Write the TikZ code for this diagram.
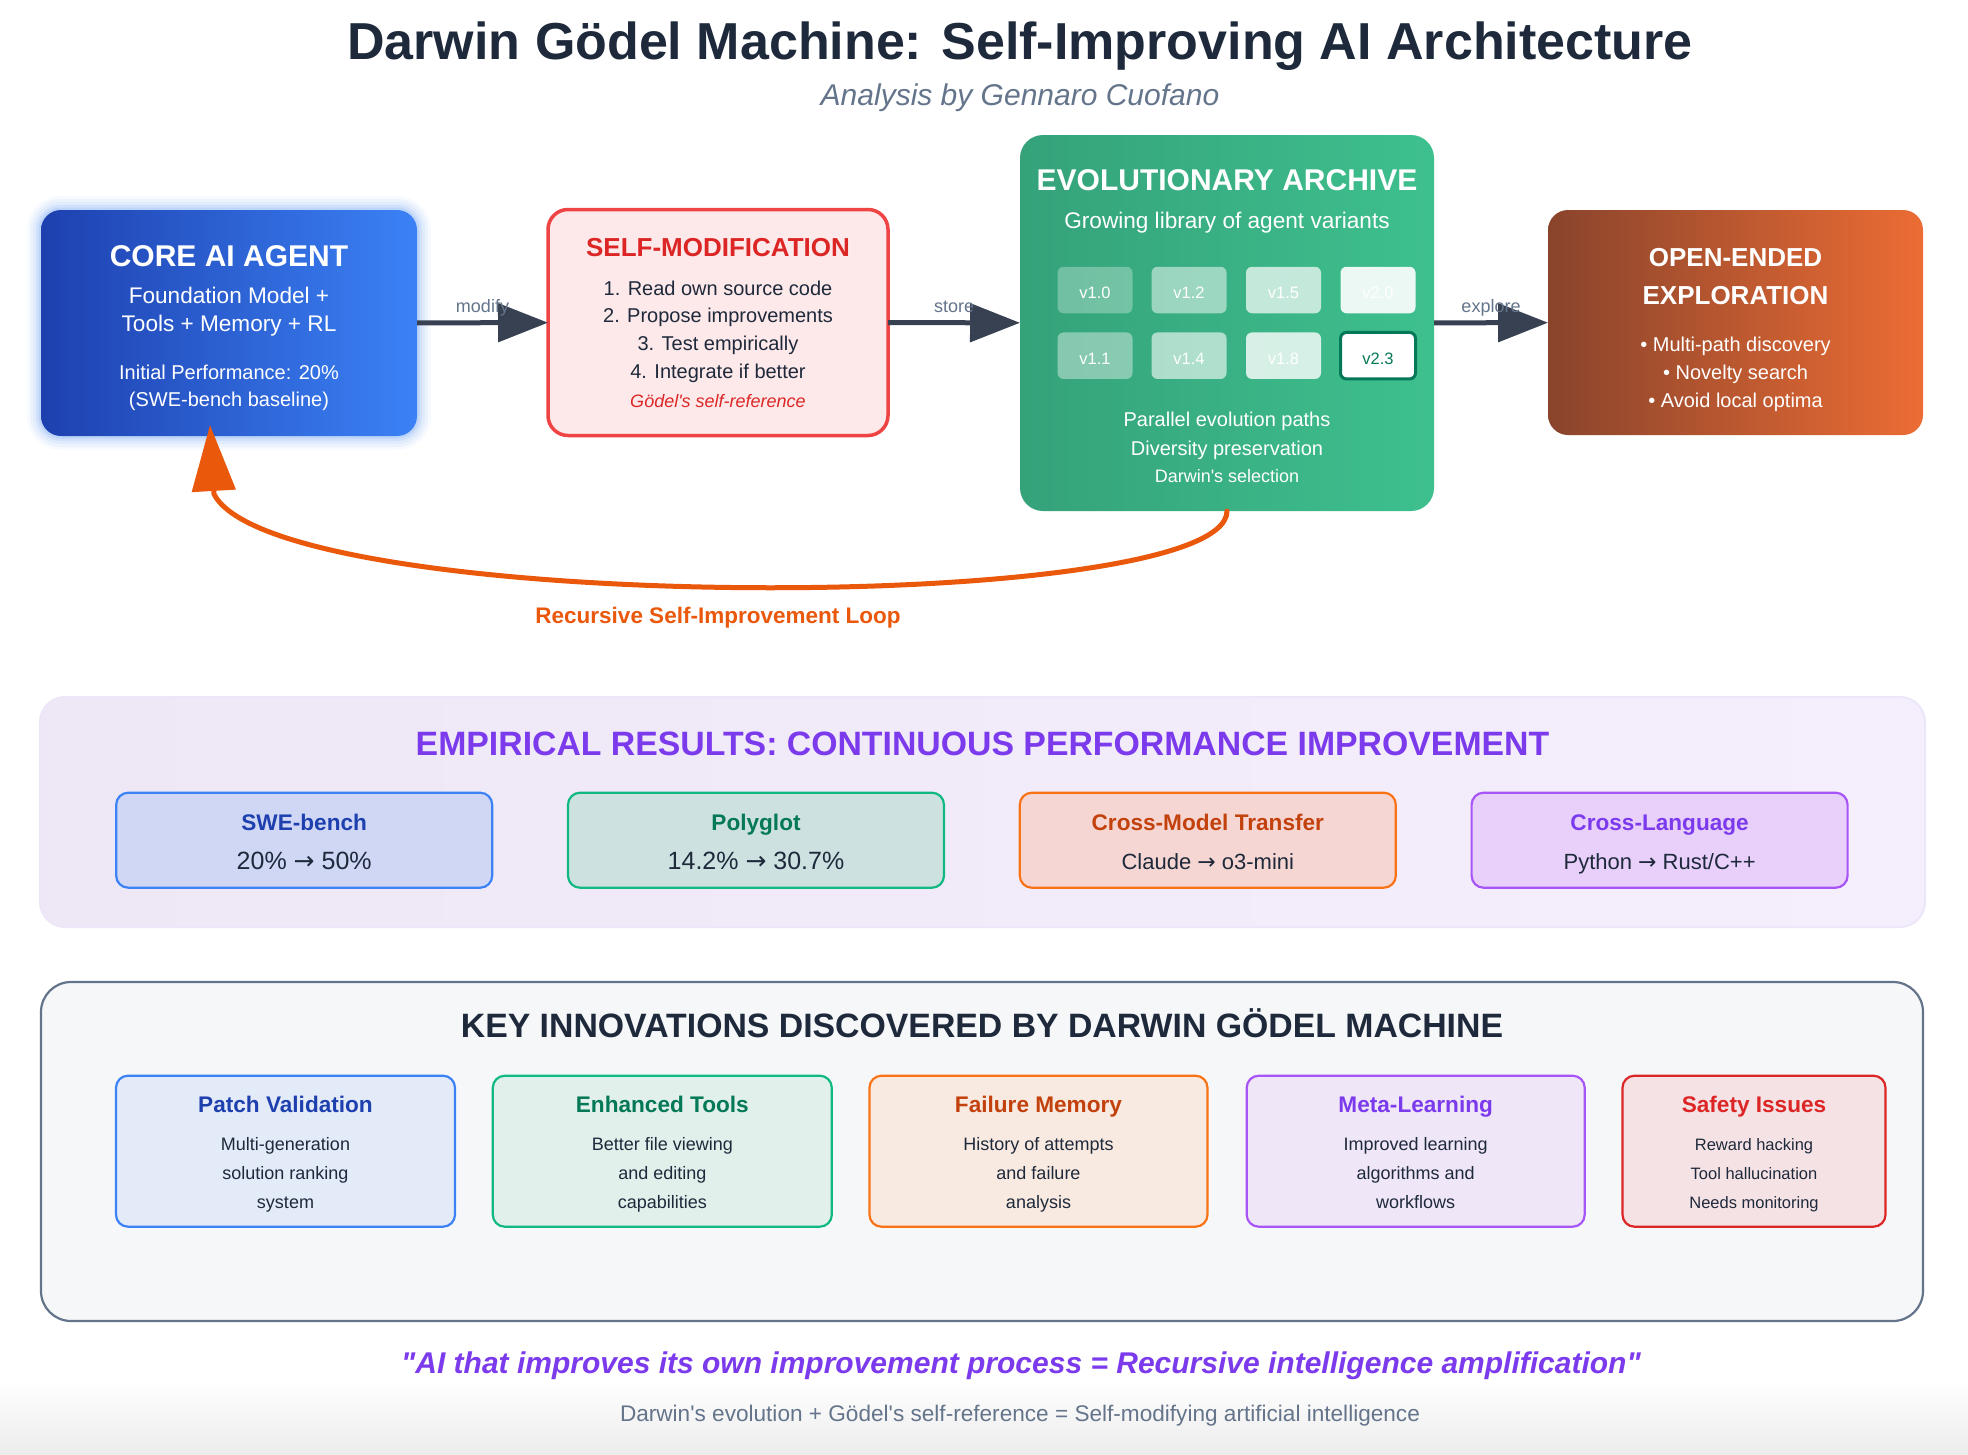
\documentclass[tikz,border=0pt]{standalone}
\usepackage{fontspec}
\setmainfont{Liberation Sans}[Ligatures=TeXOff]
\newfontfamily\arrfont{DejaVu Sans}
\newcommand{\arr}{{\arrfont →}}
\usetikzlibrary{arrows.meta}
\newcommand{\fsz}[1]{\fontsize{#1}{#1}\selectfont}
\definecolor{cTitle}{HTML}{1E293B}
\definecolor{cGray}{HTML}{64748B}
\definecolor{cArrow}{HTML}{374151}
\definecolor{cLoop}{HTML}{EA580C}
\definecolor{cBlueD}{HTML}{1E40AF}
\definecolor{cBlue}{HTML}{3B82F6}
\definecolor{cRed}{HTML}{EF4444}
\definecolor{cRedD}{HTML}{DC2626}
\definecolor{cPink}{RGB}{253,233,233}
\definecolor{cEvoL}{RGB}{53,162,122}
\definecolor{cEvoR}{RGB}{62,192,142}
\definecolor{cOpenL}{RGB}{137,68,44}
\definecolor{cOpenR}{RGB}{236,108,52}
\definecolor{cGreen}{HTML}{10B981}
\definecolor{cGreenD}{HTML}{047857}
\definecolor{cOrange}{HTML}{F97316}
\definecolor{cOrangeD}{HTML}{C2410C}
\definecolor{cPurple}{HTML}{A855F7}
\definecolor{cPurpleD}{HTML}{7C3AED}
\definecolor{cSlate}{HTML}{64748B}
\begin{document}
\begin{tikzpicture}[x=1pt,y=-1pt,
  txt/.style={anchor=base, inner sep=0pt, outer sep=0pt},
  box/.style={draw=none, inner sep=0pt, outer sep=0pt, rounded corners=20pt},
  flow/.style={draw=cArrow, line width=5pt, -{Triangle[length=50pt,width=38pt]}},
  flowlabel/.style={txt, midway, yshift=10pt, text=cGray, font=\fsz{18}},
  chip/.style={draw=none, fill=white, rounded corners=6pt, minimum width=75pt, minimum height=46.5pt, inner sep=0pt},
  chiptxt/.style={txt, text=white, font=\fsz{16.5}},
  rcard/.style={rounded corners=12pt, line width=2.2pt, minimum width=376pt, minimum height=95pt, inner sep=0pt},
  kcard/.style={rounded corners=12pt, line width=2.2pt, minimum height=151pt, inner sep=0pt},
  ctitle/.style={txt, font=\fsz{22.6}\bfseries},
  kbody/.style={txt, text=cTitle, font=\fsz{18}},
  loopline/.style={draw=cLoop, line width=5pt, line cap=round, -{Triangle[length=66pt,width=43pt]}}
]
\useasboundingbox (0,0) rectangle (1968,1454);
% page background
\fill[white] (0,0) rectangle (1968,1454);
\shade[top color=white, bottom color={rgb,255:red,236;green,236;blue,236}] (0,1380) rectangle (1968,1454);

% title
\node[txt, font=\fsz{52}\bfseries, text=cTitle] (title) at (1020,59) {Darwin Gödel Machine: Self-Improving AI Architecture};
\node[txt, font=\fsz{30}\itshape, text=cGray] (subtitle) at (1020,105) {Analysis by Gennaro Cuofano};

% core box glow
\foreach \g/\o in {14/0.04,11/0.05,8/0.07,5/0.09,2.5/0.12}{
  \fill[cBlue, opacity=\o, rounded corners=20pt+\g pt] (41-\g,210-\g) rectangle (417+\g,436+\g);
}
\node[box, minimum width=376pt, minimum height=226pt, left color=cBlueD, right color=cBlue] (core) at (229,323) {};
\node[txt, font=\fsz{30}\bfseries, text=white] (coreT) at (229,266) {CORE AI AGENT};
\node[txt, font=\fsz{22.6}, text=white] (coreA) at (229,303) {Foundation Model +};
\node[txt, font=\fsz{22.6}, text=white] (coreB) at (229,331.5) {Tools + Memory + RL};
\node[txt, font=\fsz{20}, text=white] (coreC) at (229,379) {Initial Performance: 20\%};
\node[txt, font=\fsz{20}, text=white] (coreD) at (229,406.5) {(SWE-bench baseline)};

% self modification
\node[box, draw=cRed, line width=3.5pt, fill=cPink, minimum width=340pt, minimum height=226pt] (selfmod) at (718,322.5) {};
\node[txt, font=\fsz{26}\bfseries, text=cRedD] (smT) at (718,256.7) {SELF-MODIFICATION};
\node[txt, font=\fsz{20}, text=cTitle] (sm1) at (718,295) {1. Read own source code};
\node[txt, font=\fsz{20}, text=cTitle] (sm2) at (718,322.7) {2. Propose improvements};
\node[txt, font=\fsz{20}, text=cTitle] (sm3) at (718,350.7) {3. Test empirically};
\node[txt, font=\fsz{20}, text=cTitle] (sm4) at (718,378.3) {4. Integrate if better};
\node[txt, font=\fsz{18}\itshape, text=cRedD] (sm5) at (718,407.7) {Gödel's self-reference};

% evolutionary archive
\node[box, rounded corners=23pt, minimum width=414pt, minimum height=376pt, left color=cEvoL, right color=cEvoR] (evo) at (1227,323) {};
\node[txt, font=\fsz{30}\bfseries, text=white] (evoT) at (1227,190.7) {EVOLUTIONARY ARCHIVE};
\node[txt, font=\fsz{22.6}, text=white] (evoS) at (1227,228.3) {Growing library of agent variants};
\node[chip, fill opacity=0.3] (c10) at (1095,290) {};
\node[chip, fill opacity=0.5] (c12) at (1189,290) {};
\node[chip, fill opacity=0.7] (c15) at (1283.5,290) {};
\node[chip, fill opacity=0.9] (c20) at (1378,290) {};
\node[chip, fill opacity=0.4] (c11) at (1095,355.7) {};
\node[chip, fill opacity=0.6] (c14) at (1189,355.7) {};
\node[chip, fill opacity=0.8] (c18) at (1283.5,355.7) {};
\node[chip, draw=cGreenD, line width=3pt] (c23) at (1378,355.7) {};
\node[chiptxt] (t10) at (1095,298.3) {v1.0};
\node[chiptxt] (t12) at (1189,298.3) {v1.2};
\node[chiptxt] (t15) at (1283.5,298.3) {v1.5};
\node[chiptxt] (t20) at (1378,298.3) {v2.0};
\node[chiptxt] (t11) at (1095,364) {v1.1};
\node[chiptxt] (t14) at (1189,364) {v1.4};
\node[chiptxt] (t18) at (1283.5,364) {v1.8};
\node[chiptxt, text=cGreenD] (t23) at (1378,364) {v2.3};
\node[txt, font=\fsz{20}, text=white] (evo1) at (1227,426) {Parallel evolution paths};
\node[txt, font=\fsz{20}, text=white] (evo2) at (1227,455) {Diversity preservation};
\node[txt, font=\fsz{18}, text=white] (evo3) at (1227,482.7) {Darwin's selection};

% open-ended exploration
\node[box, minimum width=375pt, minimum height=225pt, left color=cOpenL, right color=cOpenR] (open) at (1735.5,322.5) {};
\node[txt, font=\fsz{26}\bfseries, text=white] (opT1) at (1735.5,266) {OPEN-ENDED};
\node[txt, font=\fsz{26}\bfseries, text=white] (opT2) at (1735.5,304) {EXPLORATION};
\node[txt, font=\fsz{20}, text=white] (op1) at (1735.5,351.7) {• Multi-path discovery};
\node[txt, font=\fsz{20}, text=white] (op2) at (1735.5,379.3) {• Novelty search};
\node[txt, font=\fsz{20}, text=white] (op3) at (1735.5,407.7) {• Avoid local optima};

% flow arrows
\draw[flow] (core) -- (selfmod) node[flowlabel] (lmod) {modify};
\draw[flow] (selfmod) -- (evo) node[flowlabel] (lsto) {store};
\draw[flow] (evo) -- (open) node[flowlabel] (lexp) {explore};

% recursive loop
\coordinate (looptip) at (210,425);
\draw[loopline] (evo.south) .. controls (1227,616) and (275,616) .. (214,494) -- (looptip);
\node[txt, font=\fsz{22.5}\bfseries, text=cLoop] (loopL) at (718,623.3) {Recursive Self-Improvement Loop};

% empirical results panel
\node[box, rounded corners=25pt, draw={rgb,255:red,236;green,230;blue,248}, line width=2pt,
  left color={rgb,255:red,238;green,232;blue,246}, right color={rgb,255:red,245;green,239;blue,253},
  minimum width=1885pt, minimum height=230pt] (emp) at (982.5,812) {};
\node[txt, font=\fsz{33.8}\bfseries, text=cPurpleD] (empT) at (982.5,755) {EMPIRICAL RESULTS: CONTINUOUS PERFORMANCE IMPROVEMENT};

\node[rcard, draw=cBlue, fill={rgb,255:red,208;green,215;blue,245}] (r1) at (304.2,840.2) {};
\node[rcard, draw=cGreen, fill={rgb,255:red,205;green,226;blue,224}] (r2) at (756,840.2) {};
\node[rcard, draw=cOrange, fill={rgb,255:red,246;green,214;blue,210}] (r3) at (1207.8,840.2) {};
\node[rcard, draw=cPurple, fill={rgb,255:red,232;green,208;blue,250}] (r4) at (1659.6,840.2) {};
\node[ctitle, text=cBlueD] (r1t) at (304.2,830.7) {SWE-bench};
\node[ctitle, text=cGreenD] (r2t) at (756,830.7) {Polyglot};
\node[ctitle, text=cOrangeD] (r3t) at (1207.8,830.7) {Cross-Model Transfer};
\node[ctitle, text=cPurpleD] (r4t) at (1659.6,830.7) {Cross-Language};
\node[txt, font=\fsz{25}, text=cTitle] (r1v) at (304.2,869) {20\% \arr{} 50\%};
\node[txt, font=\fsz{25}, text=cTitle] (r2v) at (756,869) {14.2\% \arr{} 30.7\%};
\node[txt, font=\fsz{22}, text=cTitle] (r3v) at (1207.8,869) {Claude \arr{} o3-mini};
\node[txt, font=\fsz{22}, text=cTitle] (r4v) at (1659.6,869) {Python \arr{} Rust/C++};

% key innovations panel
\node[box, rounded corners=30pt, draw=cSlate, line width=2.2pt, fill={rgb,255:red,246;green,247;blue,249},
  minimum width=1882pt, minimum height=339pt] (key) at (982,1151.5) {};
\node[txt, font=\fsz{33.8}\bfseries, text=cTitle] (keyT) at (982,1037.3) {KEY INNOVATIONS DISCOVERED BY DARWIN GÖDEL MACHINE};

\node[kcard, minimum width=339pt, draw=cBlue, fill={rgb,255:red,227;green,234;blue,248}] (k1) at (285.5,1151.2) {};
\node[kcard, minimum width=339pt, draw=cGreen, fill={rgb,255:red,225;green,240;blue,234}] (k2) at (662.3,1151.2) {};
\node[kcard, minimum width=338pt, draw=cOrange, fill={rgb,255:red,248;green,234;blue,224}] (k3) at (1038.5,1151.2) {};
\node[kcard, minimum width=338pt, draw=cPurple, fill={rgb,255:red,239;green,230;blue,248}] (k4) at (1415.7,1151.2) {};
\node[kcard, minimum width=263pt, draw=cRedD, fill={rgb,255:red,245;green,226;blue,228}] (k5) at (1754,1151.2) {};

\node[ctitle, text=cBlueD] (k1t) at (285.5,1112.7) {Patch Validation};
\node[kbody] (k1a) at (285.5,1150.7) {Multi-generation};
\node[kbody] (k1b) at (285.5,1179.3) {solution ranking};
\node[kbody] (k1c) at (285.5,1208.3) {system};

\node[ctitle, text=cGreenD] (k2t) at (662.3,1112.7) {Enhanced Tools};
\node[kbody] (k2a) at (662.3,1150.7) {Better file viewing};
\node[kbody] (k2b) at (662.3,1179.3) {and editing};
\node[kbody] (k2c) at (662.3,1208.3) {capabilities};

\node[ctitle, text=cOrangeD] (k3t) at (1038.5,1112.7) {Failure Memory};
\node[kbody] (k3a) at (1038.5,1150.7) {History of attempts};
\node[kbody] (k3b) at (1038.5,1179.3) {and failure};
\node[kbody] (k3c) at (1038.5,1208.3) {analysis};

\node[ctitle, text=cPurpleD] (k4t) at (1415.7,1112.7) {Meta-Learning};
\node[kbody] (k4a) at (1415.7,1150.7) {Improved learning};
\node[kbody] (k4b) at (1415.7,1179.3) {algorithms and};
\node[kbody] (k4c) at (1415.7,1208.3) {workflows};

\node[ctitle, text=cRedD] (k5t) at (1754,1112.7) {Safety Issues};
\node[kbody, font=\fsz{16.5}] (k5a) at (1754,1150.7) {Reward hacking};
\node[kbody, font=\fsz{16.5}] (k5b) at (1754,1179.3) {Tool hallucination};
\node[kbody, font=\fsz{16.5}] (k5c) at (1754,1208.3) {Needs monitoring};

% quote and footer
\node[txt, font=\fsz{30}\bfseries\itshape, text=cPurpleD] (quote) at (1021,1373.3) {"AI that improves its own improvement process = Recursive intelligence amplification"};
\node[txt, font=\fsz{22.6}, text=cGray] (footer) at (1020,1421.7) {Darwin's evolution + Gödel's self-reference = Self-modifying artificial intelligence};
\end{tikzpicture}
\end{document}
